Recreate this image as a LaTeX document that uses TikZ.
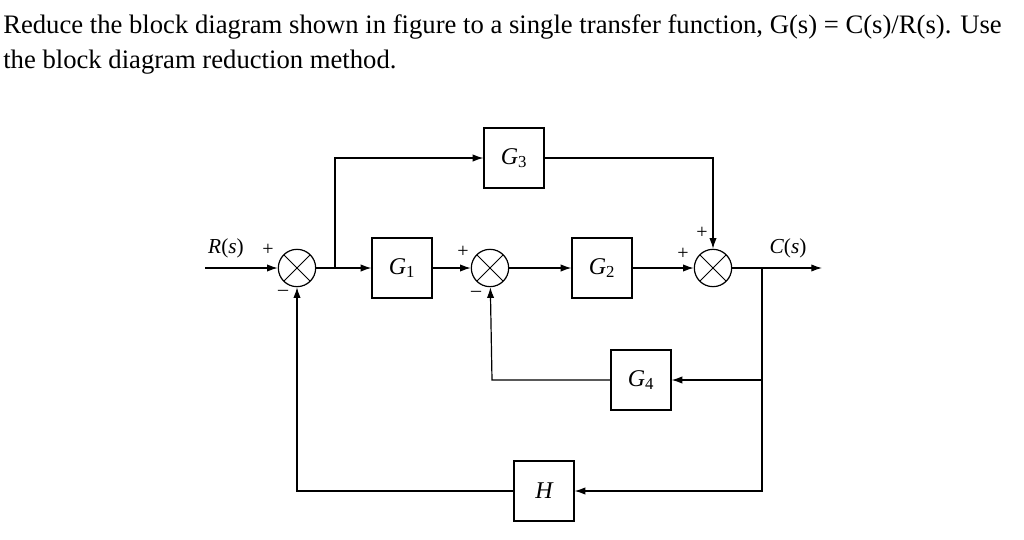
\documentclass[tikz,border=0pt]{standalone}
\usepackage{fontspec}
\setmainfont{Liberation Serif}
\usetikzlibrary{arrows.meta}
\begin{document}
\begin{tikzpicture}[x=0.75pt,y=-0.75pt,
  blk/.style={draw,line width=0.9pt,minimum width=45pt,minimum height=45pt,inner sep=0pt,font=\fontsize{18}{20}\selectfont\itshape},
  sum/.style={draw,circle,line width=0.9pt,minimum size=28pt,inner sep=0pt,path picture={\draw[line width=0.7pt] (path picture bounding box.north west)--(path picture bounding box.south east) (path picture bounding box.north east)--(path picture bounding box.south west);}},
  ar/.style={line width=0.9pt,-{Latex[length=8pt,width=5.5pt]}},
  sg/.style={font=\fontsize{15}{16}\selectfont}]
\useasboundingbox (0,0) rectangle (1024,539);
\node[anchor=base west,font=\fontsize{20}{24}\selectfont,inner sep=0pt] (title) at (3,33) {Reduce the block diagram shown in figure to a single transfer function, G(s) = C(s)/R(s). Use};
\node[anchor=base west,font=\fontsize{20}{24}\selectfont,inner sep=0pt] (title2) at (3,68) {the block diagram reduction method.};
\node[sum] (s1) at (297,268) {};
\node[sum] (s2) at (490,268) {};
\node[sum] (s3) at (713,268) {};
\node[blk] (g1) at (402,268) {G\textsubscript{\upshape 1}};
\node[blk] (g3) at (514,158) {G\textsubscript{\upshape 3}};
\node[blk] (g2) at (602,268) {G\textsubscript{\upshape 2}};
\node[blk] (g4) at (641,380) {G\textsubscript{\upshape 4}};
\node[blk] (h) at (544,491) {H};
\coordinate (in) at (205,268);
\coordinate (b1) at (335,268);
\coordinate (b1t) at (335,158);
\coordinate (g3r) at (713,158);
\coordinate (b2) at (762,268);
\coordinate (out) at (822,268);
\coordinate (b2a) at (762,380);
\coordinate (b2b) at (762,491);
\coordinate (g4l) at (492,380);
\coordinate (hl) at (297,491);
\draw[ar] (in) -- (s1);
\draw[ar] (s1) -- (g1);
\draw[ar] (b1) -- (b1t) -- (g3);
\draw[ar] (g1) -- (s2);
\draw[ar] (s2) -- (g2);
\draw[ar] (g2) -- (s3);
\draw[ar] (g3) -- (g3r) -- (s3);
\draw[ar] (s3) -- (out);
\draw[ar] (b2) -- (b2a) -- (g4);
\draw[ar] (b2a) -- (b2b) -- (h);
\draw[ar] (g4) -- (g4l) -- (s2);
\draw[ar] (h) -- (hl) -- (s1);
\node[font=\fontsize{16}{18}\selectfont] (rs) at (226,248) {\textit{R}(\textit{s})};
\node[font=\fontsize{16}{18}\selectfont] (cs) at (788,248) {\textit{C}(\textit{s})};
\node[sg] (p1) at (268,250) {+};
\node[sg] (m1) at (283,293) {\textendash};
\node[sg] (p2) at (463,252) {+};
\node[sg] (m2) at (476,294) {\textendash};
\node[sg] (p3) at (683,254) {+};
\node[sg] (p4) at (702,233) {+};
\end{tikzpicture}
\end{document}
